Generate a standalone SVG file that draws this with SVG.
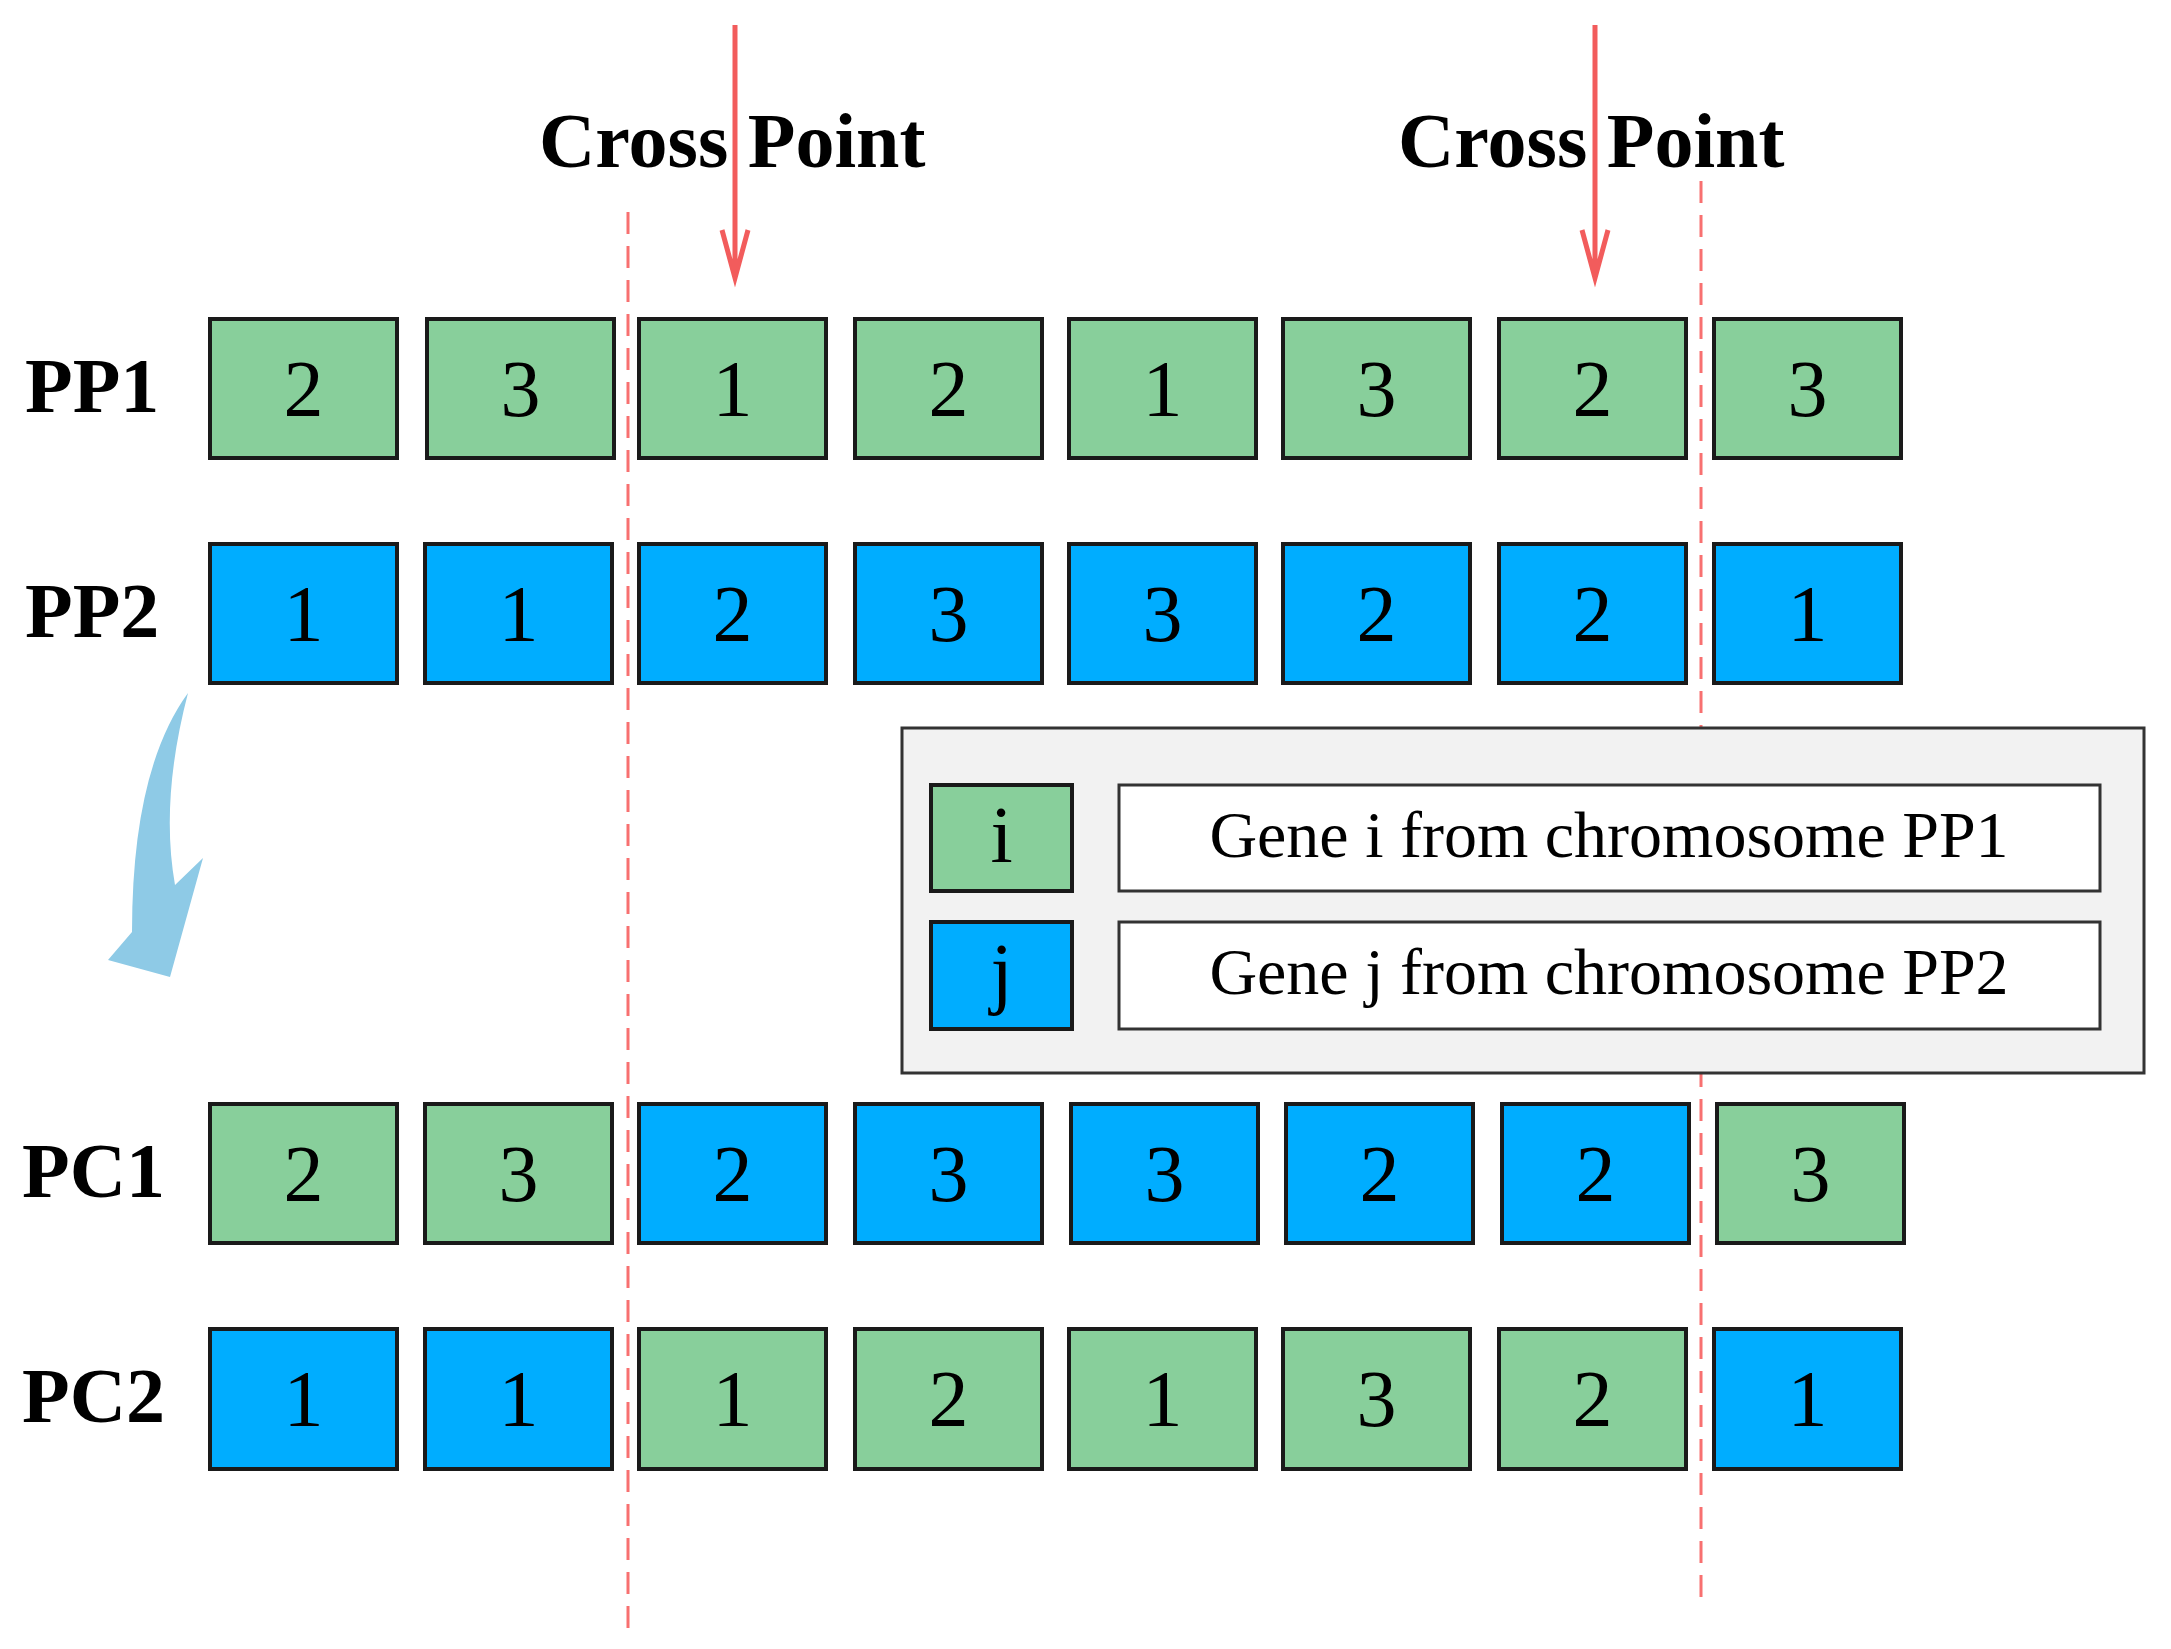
<svg xmlns="http://www.w3.org/2000/svg" width="2171" height="1649" viewBox="0 0 2171 1649">
<style>
.g{fill:#88cf9b;stroke:#1a1a1a;stroke-width:4}
.b{fill:#00adff;stroke:#1a1a1a;stroke-width:4}
.n{font-family:"Liberation Serif",serif;font-size:80px;text-anchor:middle;fill:#000}
.lab{font-family:"Liberation Serif",serif;font-size:78px;font-weight:bold;fill:#000}
.dash{stroke:#f87070;stroke-width:3;stroke-dasharray:22,12;fill:none}
.red{stroke:#f25c5c;stroke-width:5;fill:none}
</style>
<rect width="2171" height="1649" fill="#fff"/>
<g id="connectors">
<line class="dash" x1="628" y1="212" x2="628" y2="1636"/>
<line class="dash" x1="1701" y1="181" x2="1701" y2="1608"/>
<path class="red" d="M735,25 V275 M722,230 L735,278 L748,230"/>
<path class="red" d="M1595,25 V275 M1582,230 L1595,278 L1608,230"/>
<path d="M188,693 Q132,770 132,932 L108,960 L170,977 L203,858 L175,885 Q160,800 188,693 Z" fill="#8ecae6"/>
</g>
<g id="title1"><text class="lab" x="539" y="167">Cross Point</text></g>
<g id="title2"><text class="lab" x="1398" y="167">Cross Point</text></g>
<g id="PP1">
<text class="lab" x="25" y="412">PP1</text>
<rect class="g" x="210" y="319" width="187" height="139"/><text class="n" x="303.5" y="416">2</text>
<rect class="g" x="427" y="319" width="187" height="139"/><text class="n" x="520.5" y="416">3</text>
<rect class="g" x="639" y="319" width="187" height="139"/><text class="n" x="732.5" y="416">1</text>
<rect class="g" x="855" y="319" width="187" height="139"/><text class="n" x="948.5" y="416">2</text>
<rect class="g" x="1069" y="319" width="187" height="139"/><text class="n" x="1162.5" y="416">1</text>
<rect class="g" x="1283" y="319" width="187" height="139"/><text class="n" x="1376.5" y="416">3</text>
<rect class="g" x="1499" y="319" width="187" height="139"/><text class="n" x="1592.5" y="416">2</text>
<rect class="g" x="1714" y="319" width="187" height="139"/><text class="n" x="1807.5" y="416">3</text>
</g>
<g id="PP2">
<text class="lab" x="25" y="637">PP2</text>
<rect class="b" x="210" y="544" width="187" height="139"/><text class="n" x="303.5" y="641">1</text>
<rect class="b" x="425" y="544" width="187" height="139"/><text class="n" x="518.5" y="641">1</text>
<rect class="b" x="639" y="544" width="187" height="139"/><text class="n" x="732.5" y="641">2</text>
<rect class="b" x="855" y="544" width="187" height="139"/><text class="n" x="948.5" y="641">3</text>
<rect class="b" x="1069" y="544" width="187" height="139"/><text class="n" x="1162.5" y="641">3</text>
<rect class="b" x="1283" y="544" width="187" height="139"/><text class="n" x="1376.5" y="641">2</text>
<rect class="b" x="1499" y="544" width="187" height="139"/><text class="n" x="1592.5" y="641">2</text>
<rect class="b" x="1714" y="544" width="187" height="139"/><text class="n" x="1807.5" y="641">1</text>
</g>
<g id="PC1">
<text class="lab" x="22" y="1197">PC1</text>
<rect class="g" x="210" y="1104" width="187" height="139"/><text class="n" x="303.5" y="1201">2</text>
<rect class="g" x="425" y="1104" width="187" height="139"/><text class="n" x="518.5" y="1201">3</text>
<rect class="b" x="639" y="1104" width="187" height="139"/><text class="n" x="732.5" y="1201">2</text>
<rect class="b" x="855" y="1104" width="187" height="139"/><text class="n" x="948.5" y="1201">3</text>
<rect class="b" x="1071" y="1104" width="187" height="139"/><text class="n" x="1164.5" y="1201">3</text>
<rect class="b" x="1286" y="1104" width="187" height="139"/><text class="n" x="1379.5" y="1201">2</text>
<rect class="b" x="1502" y="1104" width="187" height="139"/><text class="n" x="1595.5" y="1201">2</text>
<rect class="g" x="1717" y="1104" width="187" height="139"/><text class="n" x="1810.5" y="1201">3</text>
</g>
<g id="PC2">
<text class="lab" x="22" y="1422">PC2</text>
<rect class="b" x="210" y="1329" width="187" height="140"/><text class="n" x="303.5" y="1426">1</text>
<rect class="b" x="425" y="1329" width="187" height="140"/><text class="n" x="518.5" y="1426">1</text>
<rect class="g" x="639" y="1329" width="187" height="140"/><text class="n" x="732.5" y="1426">1</text>
<rect class="g" x="855" y="1329" width="187" height="140"/><text class="n" x="948.5" y="1426">2</text>
<rect class="g" x="1069" y="1329" width="187" height="140"/><text class="n" x="1162.5" y="1426">1</text>
<rect class="g" x="1283" y="1329" width="187" height="140"/><text class="n" x="1376.5" y="1426">3</text>
<rect class="g" x="1499" y="1329" width="187" height="140"/><text class="n" x="1592.5" y="1426">2</text>
<rect class="b" x="1714" y="1329" width="187" height="140"/><text class="n" x="1807.5" y="1426">1</text>
</g>
<g id="legend">
<rect x="902" y="728" width="1242" height="345" fill="#f2f2f2" stroke="#333" stroke-width="3"/>
<rect class="g" x="931" y="785" width="141" height="106"/><text class="n" x="1001.5" y="862">i</text>
<rect class="b" x="931" y="922" width="141" height="107"/><text class="n" x="1001.5" y="999">j</text>
<rect x="1119" y="785" width="981" height="106" fill="#fff" stroke="#333" stroke-width="3"/>
<text x="1609" y="857" font-family="Liberation Serif,serif" font-size="66" text-anchor="middle">Gene i from chromosome PP1</text>
<rect x="1119" y="922" width="981" height="107" fill="#fff" stroke="#333" stroke-width="3"/>
<text x="1609" y="994" font-family="Liberation Serif,serif" font-size="66" text-anchor="middle">Gene j from chromosome PP2</text>
</g>
</svg>
